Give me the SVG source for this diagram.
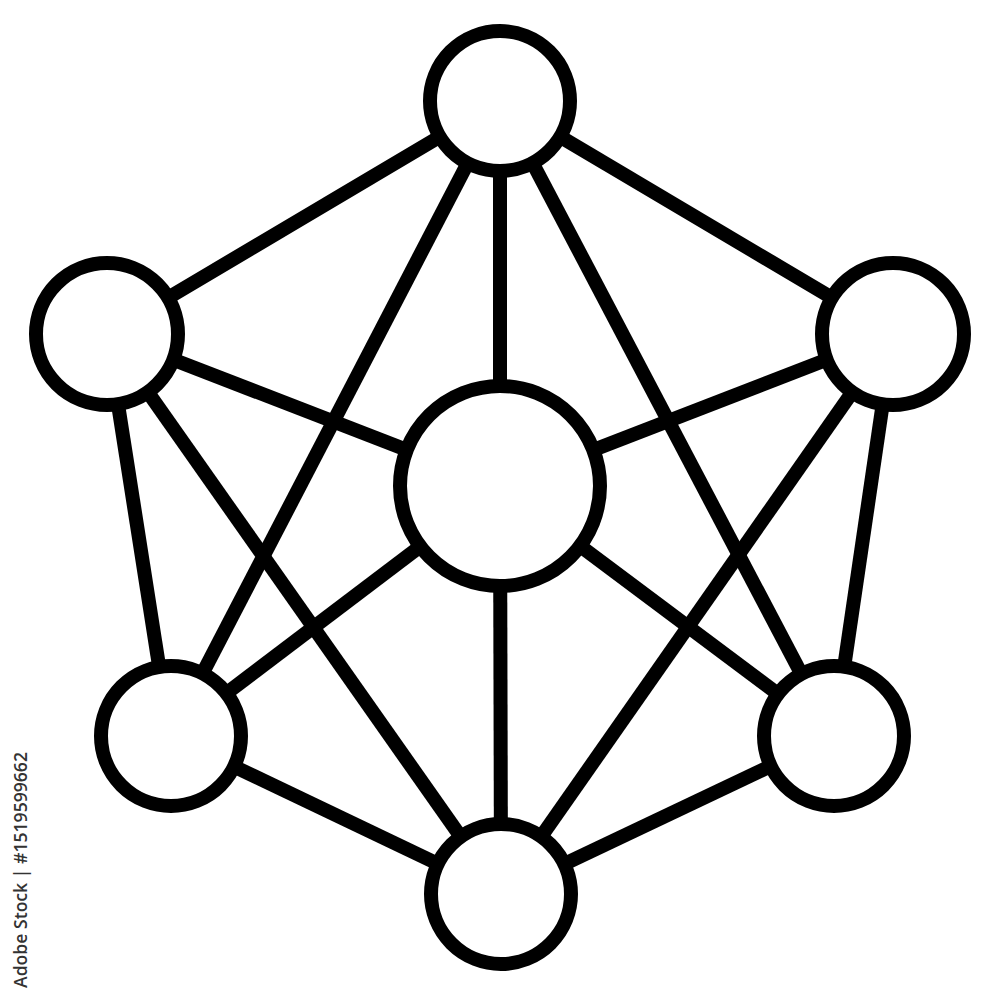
<svg xmlns="http://www.w3.org/2000/svg" width="1000" height="1000" viewBox="0 0 1000 1000">
<style>
.edge{stroke:#000;stroke-width:14;stroke-linecap:butt;fill:none}
.node{fill:#fff;stroke:#000;stroke-width:14}
.wm{font-family:"Open Sans","Noto Sans",sans-serif;font-size:18px;font-weight:600;fill:#333}
</style>
<rect width="1000" height="1000" fill="#fff"/>
<g id="connectors">
<line class="edge" x1="500" y1="101" x2="107" y2="334"/>
<line class="edge" x1="500" y1="101" x2="893" y2="334"/>
<line class="edge" x1="500" y1="101" x2="500" y2="486"/>
<line class="edge" x1="500" y1="101" x2="170" y2="736"/>
<line class="edge" x1="500" y1="101" x2="834" y2="736"/>
<line class="edge" x1="107" y1="334" x2="500" y2="486"/>
<line class="edge" x1="893" y1="334" x2="500" y2="486"/>
<line class="edge" x1="107" y1="334" x2="170" y2="736"/>
<line class="edge" x1="893" y1="334" x2="834" y2="736"/>
<line class="edge" x1="107" y1="334" x2="501" y2="894"/>
<line class="edge" x1="893" y1="334" x2="501" y2="894"/>
<line class="edge" x1="500" y1="486" x2="170" y2="736"/>
<line class="edge" x1="500" y1="486" x2="834" y2="736"/>
<line class="edge" x1="500" y1="486" x2="501" y2="894"/>
<line class="edge" x1="170" y1="736" x2="501" y2="894"/>
<line class="edge" x1="834" y1="736" x2="501" y2="894"/>
</g>
<g id="node-top"><circle class="node" cx="500" cy="101" r="70"/></g>
<g id="node-left"><circle class="node" cx="107" cy="334" r="71"/></g>
<g id="node-right"><circle class="node" cx="893" cy="334" r="71"/></g>
<g id="node-center"><circle class="node" cx="500" cy="486" r="100"/></g>
<g id="node-bottom-left"><circle class="node" cx="171" cy="736" r="70"/></g>
<g id="node-bottom-right"><circle class="node" cx="834" cy="736" r="70"/></g>
<g id="node-bottom"><circle class="node" cx="501" cy="894" r="70"/></g>
<text class="wm" transform="translate(27,988) rotate(-90)" textLength="236" lengthAdjust="spacingAndGlyphs">Adobe Stock | #1519599662</text>
</svg>
